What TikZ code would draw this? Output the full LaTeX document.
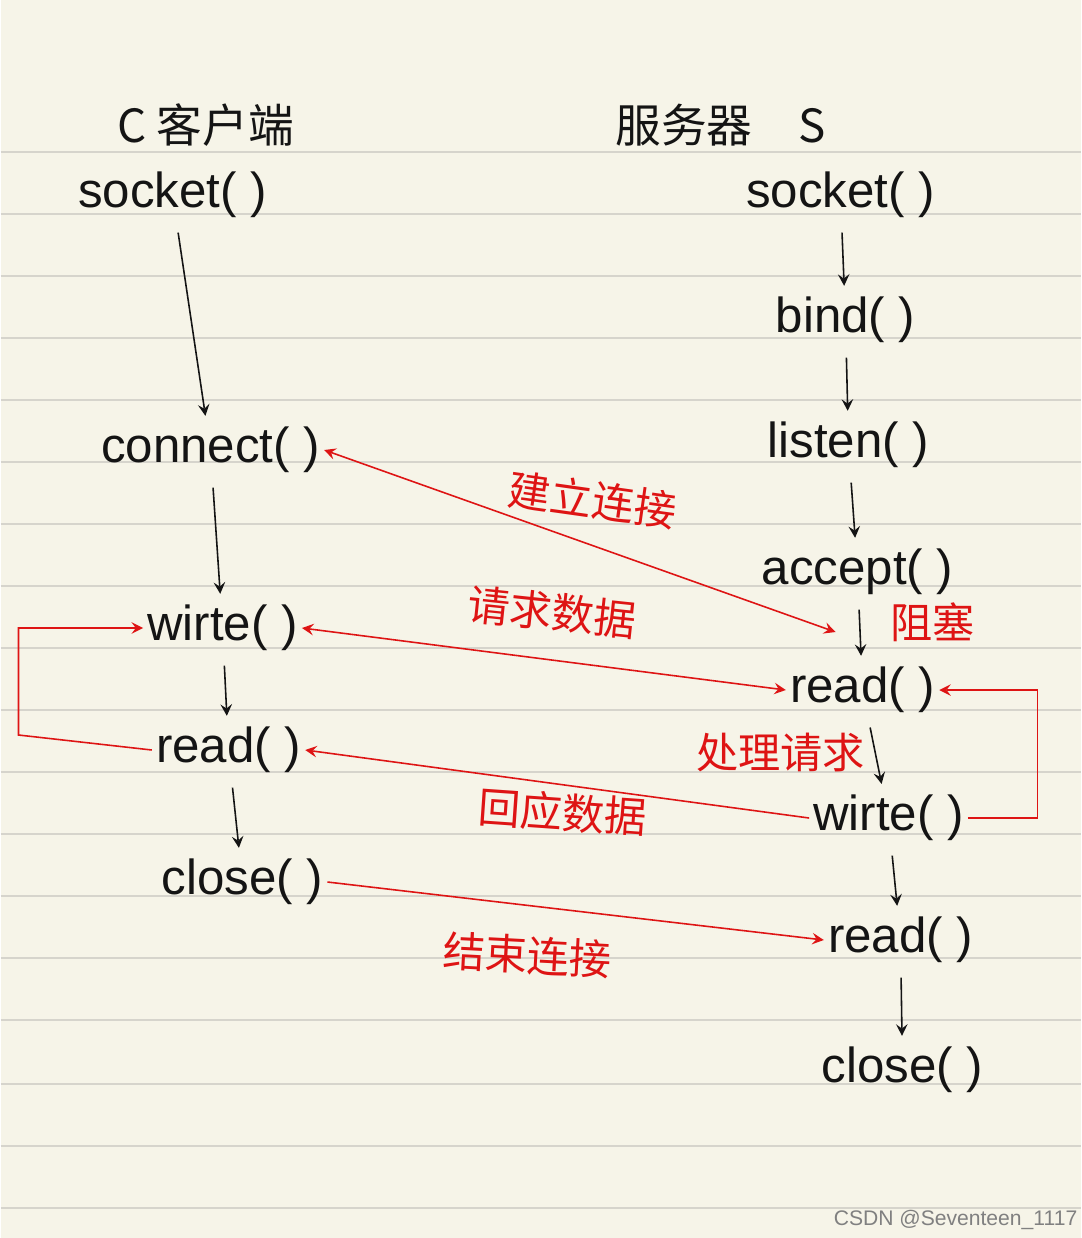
\documentclass[tikz,border=0pt]{standalone}
\usepackage{fontspec}
\setmainfont{Liberation Sans}
\newfontfamily\cjk{Noto Sans CJK SC}
\usetikzlibrary{positioning}
\definecolor{paper}{RGB}{246,244,232}
\definecolor{rule}{RGB}{214,212,204}
\definecolor{ink}{RGB}{20,20,20}
\definecolor{redink}{RGB}{222,20,20}
\tikzset{
  call/.style={font=\fontsize{14}{15}\selectfont,text=ink,inner sep=1pt},
  title/.style={font=\cjk\fontsize{13}{14}\selectfont,text=ink},
  note/.style={font=\cjk\fontsize{12}{13}\selectfont,text=redink},
  flow/.style={->,>=stealth,draw=ink,line width=0.45pt,shorten <=3pt,shorten >=2pt},
  msg/.style={draw=redink,line width=0.45pt,>=stealth}
}
\begin{document}
\begin{tikzpicture}[x=0.01cm,y=-0.01cm]
%paper
\fill[paper] (0,0) rectangle (1080,1238);
\foreach \y in {152,214,276,338,400,462,524,586,648,710,772,834,896,958,1020,1084,1146,1208}{
  \draw[rule,line width=0.3pt] (0,\y) -- (1080,\y);
}
\useasboundingbox (0,0) rectangle (1080,1238);

%client column
\node (ct) at (205,125) [title] {C 客户端};
\node (csocket) at (172,195) [call] {socket( )};
\node (cconnect) at (210,450) [call] {connect( )};
\node (cwrite) at (222,628) [call] {wirte( )};
\node (cread) at (228,750) [call] {read( )};
\node (cclose) at (242,882) [call] {close( )};
\draw[flow] (csocket) -- (cconnect);
\draw[flow] (cconnect) -- (cwrite);
\draw[flow] (cwrite) -- (cread);
\draw[flow] (cread) -- (cclose);

%server column
\node (st) at (720,125) [title] {服务器\quad S};
\node (ssocket) at (840,195) [call] {socket( )};
\node (sbind) at (845,320) [call] {bind( )};
\node (slisten) at (848,445) [call] {listen( )};
\node (saccept) at (857,572) [call] {accept( )};
\node (sread) at (862,690) [call] {read( )};
\node (swrite) at (888,818) [call] {wirte( )};
\node (sread2) at (900,940) [call] {read( )};
\node (sclose) at (902,1070) [call] {close( )};
\draw[flow] (ssocket) -- (sbind);
\draw[flow] (sbind) -- (slisten);
\draw[flow] (slisten) -- (saccept);
\draw[flow] (saccept) -- (sread);
\draw[flow] (sread) -- (swrite);
\draw[flow] (swrite) -- (sread2);
\draw[flow] (sread2) -- (sclose);

%messages
\coordinate (acc) at (835,632);
\draw[msg,<->] (cconnect.east) -- (acc);
\node (n1) at (592,500) [note,rotate=-8] {建立连接};
\draw[msg,<->] (cwrite.east) -- (sread.west);
\node (n2) at (552,612) [note,rotate=-6] {请求数据};
\node (n3) at (932,622) [note] {阻塞};
\node (n4) at (780,752) [note] {处理请求};
\draw[msg,->] (swrite.west) -- (cread.east);
\node (n5) at (562,812) [note,rotate=-4] {回应数据};
\draw[msg,->] (cclose.east) -- (sread2.west);
\node (n6) at (527,955) [note,rotate=-3] {结束连接};

%loops
\draw[msg,->] (swrite.east) -- (1037,818) |- (sread.east);
\draw[msg,->] (cread.west) -- (18,735) |- (cwrite.west);

%mark
\node (mark) at (955,1220) [font=\fontsize{6}{7}\selectfont,text=gray] {CSDN @Seventeen\_1117};
\end{tikzpicture}
\end{document}
